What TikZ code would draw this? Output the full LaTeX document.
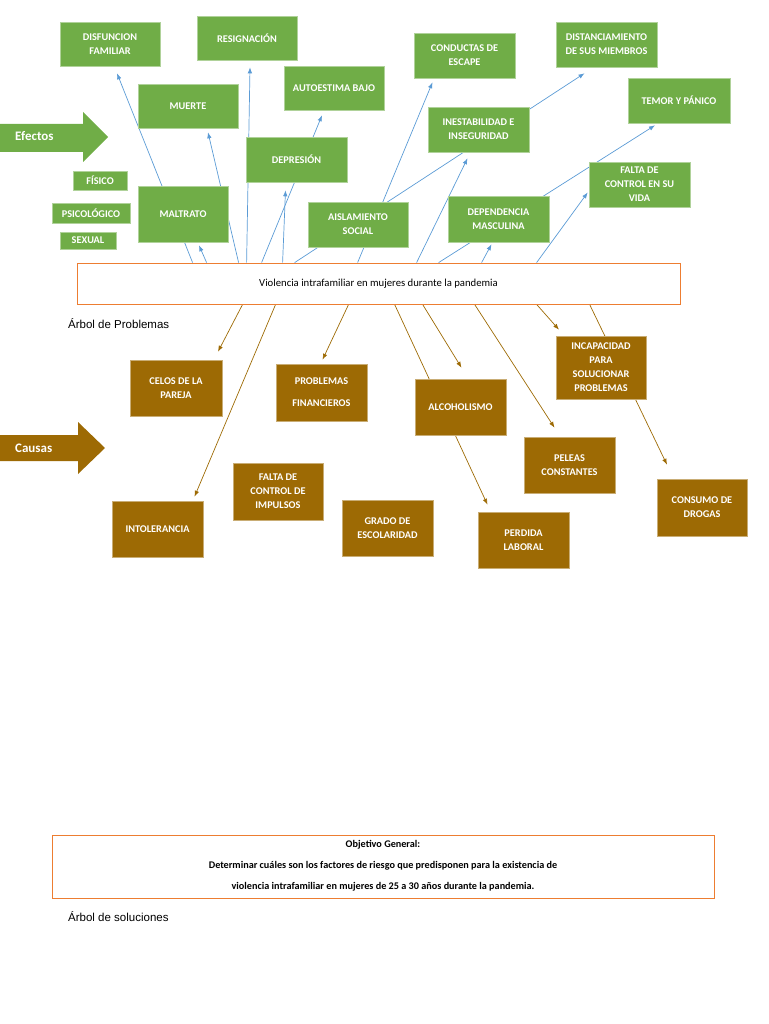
\documentclass[tikz,border=0pt]{standalone}
\usepackage{fontspec}
\setmainfont{Carlito}
\newfontfamily\arialf{Liberation Sans}
\usetikzlibrary{arrows.meta,calc,backgrounds}
\definecolor{egreen}{RGB}{112,173,71}
\definecolor{cbrown}{RGB}{157,106,4}
\definecolor{lblue}{RGB}{91,155,213}
\definecolor{borange}{RGB}{237,125,49}
\tikzset{
  gbox/.style={fill=egreen, draw=egreen!55!white, line width=0.6pt, text=white,
    font=\bfseries\fontsize{10.3}{14}\selectfont, align=center, inner sep=0pt},
  bbox/.style={fill=cbrown, draw=cbrown!55!white, line width=0.6pt, text=white,
    font=\bfseries\fontsize{10.3}{14}\selectfont, align=center, inner sep=0pt},
  blarrow/.style={draw=lblue, line width=0.7pt, -{Latex[length=6pt,width=4.5pt]}},
  brarrow/.style={draw=cbrown, line width=0.7pt, -{Latex[length=6pt,width=4.5pt]}},
  plain/.style={font=\arialf\fontsize{11.5}{14}\selectfont, anchor=west, inner sep=0pt},
  sidelabel/.style={anchor=west, text=white, font=\bfseries\fontsize{13}{15}\selectfont, inner sep=0pt},
}
\begin{document}
\begin{tikzpicture}[x=1pt,y=-1pt]
\useasboundingbox (0,0) rectangle (768,1024);

% side arrows
\fill[egreen] (0,124) -- (83,124) -- (83,112) -- (108,137) -- (83,162) -- (83,152) -- (0,152) -- cycle;
\node[sidelabel] (efectos) at (15,136) {Efectos};
\fill[cbrown] (0,435) -- (78,435) -- (78,422) -- (105,448) -- (78,474) -- (78,461) -- (0,461) -- cycle;
\node[sidelabel] (causas) at (15,448) {Causas};

% central problem
\node[draw=borange, line width=0.8pt, fill=white, minimum width=603pt, minimum height=41pt, inner sep=0pt,
  font=\fontsize{10.7}{12}\selectfont] (vio) at (378.5,283.5) {Violencia intrafamiliar en mujeres durante la pandemia};
\node[plain] (arbp) at (68,324) {Árbol de Problemas};

% effects
\node[gbox, minimum width=100pt, minimum height=44pt] (disf) at (110,44) {DISFUNCION\\FAMILIAR};
\node[gbox, minimum width=100pt, minimum height=44pt] (resig) at (247,38) {RESIGNACIÓN};
\node[gbox, minimum width=100pt, minimum height=44pt] (muerte) at (188,106) {MUERTE};
\node[gbox, minimum width=100pt, minimum height=44pt] (auto) at (334,88) {AUTOESTIMA BAJO};
\node[gbox, minimum width=101pt, minimum height=45pt] (dep) at (296.5,159.5) {DEPRESIÓN};
\node[gbox, minimum width=54pt, minimum height=19pt] (fis) at (100,180.5) {FÍSICO};
\node[gbox, minimum width=78pt, minimum height=20pt] (psi) at (91,213) {PSICOLÓGICO};
\node[gbox, minimum width=56pt, minimum height=17pt] (sex) at (88,240.5) {SEXUAL};
\node[gbox, minimum width=90pt, minimum height=56pt] (malt) at (183,214) {MALTRATO};
\node[gbox, minimum width=100pt, minimum height=45pt] (aisl) at (358,224.5) {AISLAMIENTO\\SOCIAL};
\node[gbox, minimum width=101pt, minimum height=45pt] (cond) at (464.5,55.5) {CONDUCTAS DE\\ESCAPE};
\node[gbox, minimum width=101pt, minimum height=45pt] (dist) at (606.5,44.5) {DISTANCIAMIENTO\\DE SUS MIEMBROS};
\node[gbox, minimum width=102pt, minimum height=45pt] (temor) at (679,100.5) {TEMOR Y PÁNICO};
\node[gbox, minimum width=101pt, minimum height=45pt] (inest) at (478.5,129.5) {INESTABILIDAD E\\INSEGURIDAD};
\node[gbox, minimum width=101pt, minimum height=45pt] (falta) at (639.5,184.5) {FALTA DE\\CONTROL EN SU\\VIDA};
\node[gbox, minimum width=101pt, minimum height=46pt] (depm) at (498.5,219) {DEPENDENCIA\\MASCULINA};

% causes
\node[bbox, minimum width=92pt, minimum height=56pt] (celos) at (176,388) {CELOS DE LA\\PAREJA};
\node[bbox, minimum width=91pt, minimum height=57pt] (probl) at (321.5,392.5) {PROBLEMAS\\[8pt]FINANCIEROS};
\node[bbox, minimum width=90pt, minimum height=57pt] (impul) at (278,491.5) {FALTA DE\\CONTROL DE\\IMPULSOS};
\node[bbox, minimum width=91pt, minimum height=56pt] (intol) at (157.5,529) {INTOLERANCIA};
\node[bbox, minimum width=91pt, minimum height=56pt] (escol) at (387.5,528) {GRADO DE\\ESCOLARIDAD};
\node[bbox, minimum width=91pt, minimum height=56pt] (alco) at (460.5,407) {ALCOHOLISMO};
\node[bbox, minimum width=90pt, minimum height=63pt] (incap) at (601,367.5) {INCAPACIDAD\\PARA\\SOLUCIONAR\\PROBLEMAS};
\node[bbox, minimum width=91pt, minimum height=56pt] (pel) at (569.5,465) {PELEAS\\CONSTANTES};
\node[bbox, minimum width=90pt, minimum height=57pt] (cons) at (702,507.5) {CONSUMO DE\\DROGAS};
\node[bbox, minimum width=91pt, minimum height=56pt] (perd) at (523.5,540) {PERDIDA\\LABORAL};

% objective
\node[draw=borange, line width=0.8pt, minimum width=662pt, minimum height=63pt, inner sep=0pt] (obj) at (383,866.5) {};
\node[font=\bfseries\fontsize{10.2}{21}\selectfont, align=center, inner sep=0pt] (objt) at (383,866) {Objetivo General:\\Determinar cuáles son los factores de riesgo que predisponen para la existencia de\\violencia intrafamiliar en mujeres de 25 a 30 años durante la pandemia.};
\node[plain] (arbs) at (68,917) {Árbol de soluciones};

\begin{scope}[on background layer]
% effect arrows
\draw[blarrow] ($(vio.north west)+(116,0)$) -- ($(disf.south)+(7,7)$);
\draw[blarrow] ($(vio.north west)+(130,0)$) -- ($(malt.south)+(16,3)$);
\draw[blarrow] ($(vio.north west)+(162,0)$) -- ($(muerte.south)+(20,4)$);
\draw[blarrow] ($(vio.north west)+(170,0)$) -- ($(resig.south)+(3,7)$);
\draw[blarrow] ($(vio.north west)+(185,0)$) -- ($(auto.south)+(-12,5)$);
\draw[blarrow] ($(vio.north west)+(206,0)$) -- ($(dep.south)+(-11,8)$);
\draw[blarrow] ($(vio.north west)+(218,0)$) -- ($(dist.south)+(-22,6)$);
\draw[blarrow] ($(vio.north west)+(281,0)$) -- ($(cond.south)+(-32,4)$);
\draw[blarrow] ($(vio.north west)+(340,0)$) -- ($(inest.south)+(-11,6)$);
\draw[blarrow] ($(vio.north west)+(362,0)$) -- ($(temor.south)+(-24,2)$);
\draw[blarrow] ($(vio.north west)+(405,0)$) -- ($(depm.south)+(-7,2)$);
\draw[blarrow] ($(vio.north west)+(460,0)$) -- ($(falta.west)+(-1,8)$);
% cause arrows
\draw[brarrow] ($(vio.south west)+(166,0)$) -- ($(celos.north)+(42,-8)$);
\draw[brarrow] ($(vio.south west)+(199,0)$) -- ($(intol.north)+(37,-4)$);
\draw[brarrow] ($(vio.south west)+(272,0)$) -- ($(probl.north)+(1,-4)$);
\draw[brarrow] ($(vio.south west)+(318,0)$) -- ($(perd.north)+(-36,-7)$);
\draw[brarrow] ($(vio.south west)+(346,0)$) -- ($(alco.north)+(1,-11)$);
\draw[brarrow] ($(vio.south west)+(398,0)$) -- ($(pel.north)+(-15,-9)$);
\draw[brarrow] ($(vio.south west)+(460,0)$) -- ($(incap.north)+(-42,-6)$);
\draw[brarrow] ($(vio.south west)+(513,0)$) -- ($(cons.north)+(-35,-14)$);
\end{scope}
\end{tikzpicture}
\end{document}
